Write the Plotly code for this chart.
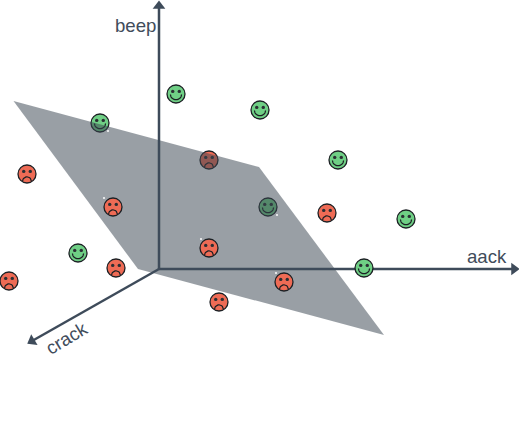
import numpy as np
import plotly.graph_objects as go

WIDTH = 519
HEIGHT = 437

# happy and sad points (pixel positions)
happy_x = [176, 260, 338, 406, 364, 78]
happy_y = [94, 110, 160, 219, 268, 253]
sad_x = [27, 113, 327, 209, 116, 9, 284, 219]
sad_y = [174, 207, 213, 248, 268, 281, 282, 302]

# these ones sit behind the plane
happy_back_x = [100, 268]
happy_back_y = [123, 207]
sad_back_x = [209]
sad_back_y = [160]

plane_x = [13.5, 259, 384, 138]
plane_y = [101, 167, 335, 269]

# little white specks next to some faces
speck_x = [104, 201, 276, 108, 277]
speck_y = [198, 239, 273, 131, 215]

origin = (159, 269)
axis_names = ["aack", "beep", "crack"]
axis_end_x = [514, 159, 32]
axis_end_y = [269, 6, 341]
axis_angle = [90, 0, 240]

AXIS_COLOR = "#3e4b5a"
GREEN = "#6fcf85"
RED = "#ee6b55"
FACE_LINE = "#1c2024"


def face_traces(xs, ys, color, happy):
    # circle + eyes + mouth for each face
    t = np.linspace(0, np.pi, 15)
    mx, my = [], []
    for x, y in zip(xs, ys):
        if happy:
            mx += list(x + 5.6 * np.cos(t)) + [None]
            my += list(y + 0.5 + 5.2 * np.sin(t)) + [None]
        else:
            mx += list(x + 4.4 * np.cos(t)) + [None]
            my += list(y + 7.2 - 4.4 * np.sin(t)) + [None]
    ex = [x + d for x in xs for d in (-3.3, 3.3)]
    ey = [y - 2.6 for y in ys for d in (0, 1)]
    return [
        go.Scatter(x=xs, y=ys, mode="markers", hoverinfo="skip",
                   marker=dict(size=18, color=color, line=dict(color=FACE_LINE, width=1.3))),
        go.Scatter(x=ex, y=ey, mode="markers", hoverinfo="skip",
                   marker=dict(size=3.4, color="#2a2f33")),
        go.Scatter(x=mx, y=my, mode="lines", hoverinfo="skip",
                   line=dict(color=FACE_LINE, width=1.2)),
    ]


fig = go.Figure()

# behind the plane
for tr in face_traces(happy_back_x, happy_back_y, GREEN, True):
    fig.add_trace(tr)
for tr in face_traces(sad_back_x, sad_back_y, RED, False):
    fig.add_trace(tr)

# plane
fig.add_trace(go.Scatter(x=plane_x + plane_x[:1], y=plane_y + plane_y[:1], mode="lines",
                         fill="toself", fillcolor="rgba(60,70,82,0.52)",
                         line=dict(width=0), hoverinfo="skip"))

# axes
for ex, ey, ang in zip(axis_end_x, axis_end_y, axis_angle):
    fig.add_trace(go.Scatter(x=[origin[0], ex], y=[origin[1], ey], mode="lines",
                             line=dict(color=AXIS_COLOR, width=2.5), hoverinfo="skip"))
    fig.add_trace(go.Scatter(x=[ex], y=[ey], mode="markers", hoverinfo="skip",
                             marker=dict(symbol="triangle-up", size=11, color=AXIS_COLOR,
                                         angle=ang, line=dict(width=0))))

# specks
fig.add_trace(go.Scatter(x=speck_x, y=speck_y, mode="markers", hoverinfo="skip",
                         marker=dict(size=2.2, color="rgba(255,255,255,0.9)", line=dict(width=0))))

# in front of the plane
for tr in face_traces(happy_x, happy_y, GREEN, True):
    fig.add_trace(tr)
for tr in face_traces(sad_x, sad_y, RED, False):
    fig.add_trace(tr)

label_font = dict(family="Liberation Sans", size=18.6, color="#414c5b")
fig.add_annotation(x=487, y=256, text=axis_names[0], showarrow=False, font=label_font)
fig.add_annotation(x=135, y=25, text=axis_names[1], showarrow=False, font=label_font)
fig.add_annotation(x=66, y=338, text=axis_names[2], showarrow=False, font=label_font, textangle=-31)

fig.update_layout(
    width=WIDTH, height=HEIGHT,
    margin=dict(l=0, r=0, t=0, b=0),
    paper_bgcolor="white", plot_bgcolor="white",
    showlegend=False,
    xaxis=dict(range=[0, WIDTH], visible=False, fixedrange=True),
    yaxis=dict(range=[HEIGHT, 0], visible=False, fixedrange=True),
)

fig.write_html("out.html", config=dict(displayModeBar=False),
               post_script="document.body.style.margin='0';")
